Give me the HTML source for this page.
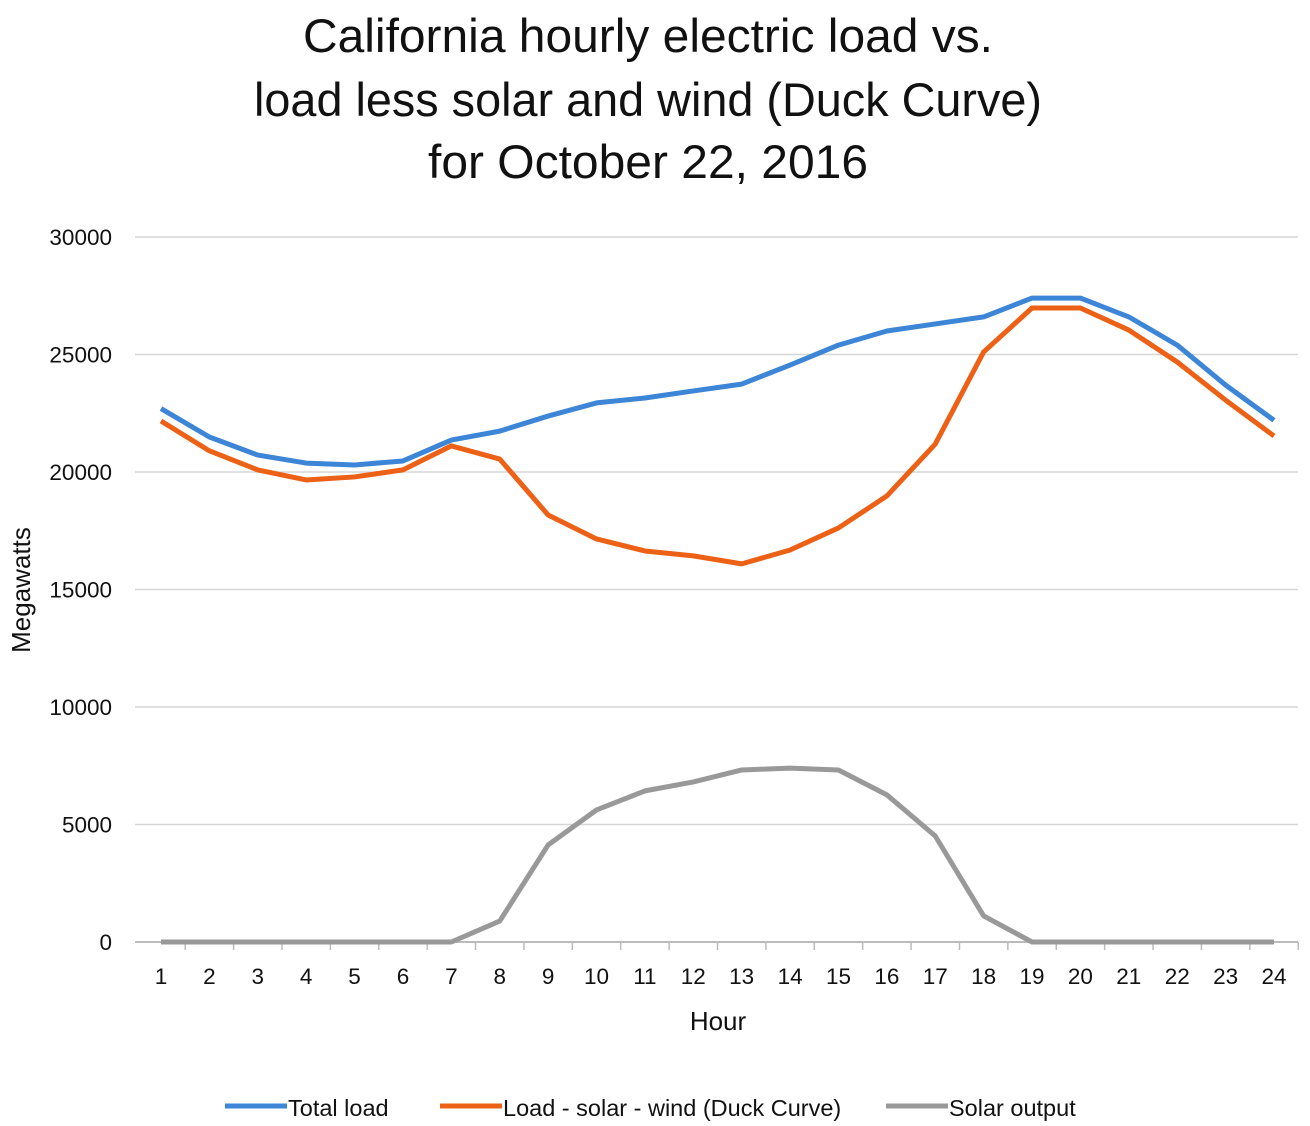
<!DOCTYPE html>
<html><head><meta charset="utf-8"><style>
body{margin:0;background:#fff;}
svg{display:block;font-family:"Liberation Sans",sans-serif;}
</style></head><body>
<svg id="chart" width="1310" height="1126">
<g font-size="47" fill="#111" text-anchor="middle">
<text x="648" y="52" textLength="690" lengthAdjust="spacingAndGlyphs">California hourly electric load vs.</text>
<text x="648" y="116" textLength="788" lengthAdjust="spacingAndGlyphs">load less solar and wind (Duck Curve)</text>
<text x="648" y="178" textLength="440" lengthAdjust="spacingAndGlyphs">for October 22, 2016</text>
</g>
<g id="grid"></g><g id="yt"></g><g id="xt"></g><g id="series"></g>
<text x="30" y="590" font-size="26" fill="#111" text-anchor="middle" transform="rotate(-90 30 590)">Megawatts</text>
<text x="718" y="1030" font-size="26" fill="#111" text-anchor="middle">Hour</text>
<g font-size="23.5" fill="#111">
<g><line x1="225" y1="1106" x2="287" y2="1106" stroke="#3d85d6" stroke-width="5"/><text x="288" y="1116">Total load</text></g>
<g><line x1="440" y1="1106" x2="502" y2="1106" stroke="#ec6116" stroke-width="5"/><text x="503" y="1116">Load - solar - wind (Duck Curve)</text></g>
<g><line x1="886" y1="1106" x2="948" y2="1106" stroke="#999" stroke-width="5"/><text x="949" y="1116">Solar output</text></g>
</g>
</svg>
<script>
const hours=[1,2,3,4,5,6,7,8,9,10,11,12,13,14,15,16,17,18,19,20,21,22,23,24];
const totalLoad=[22700,21490,20720,20380,20300,20470,21360,21740,22380,22940,23150,23450,23740,24550,25400,26000,26300,26600,27400,27400,26600,25400,23700,22200];
const duckCurve=[22170,20900,20090,19660,19790,20090,21110,20550,18170,17150,16640,16430,16090,16680,17620,18980,21190,25110,26980,26980,26040,24680,23060,21530];
const solarOutput=[0,0,0,0,0,0,0,890,4130,5620,6430,6810,7320,7400,7320,6260,4510,1110,0,0,0,0,0,0];
const yTicks=[0,5000,10000,15000,20000,25000,30000];
const NS="http://www.w3.org/2000/svg";
const y=v=>942-v*705/30000;
const x=h=>161+(h-1)*(1113/23);
function mk(t,a,p){const e=document.createElementNS(NS,t);for(const k in a)e.setAttribute(k,a[k]);p.appendChild(e);return e;}
const grid=document.getElementById('grid'),yt=document.getElementById('yt'),xt=document.getElementById('xt'),ser=document.getElementById('series');
yTicks.forEach(v=>{
const l=mk('line',{x1:135,x2:1298,y1:y(v),y2:y(v),stroke:v===0?'#bbb':'#d6d6d6','stroke-width':v===0?2:1.5},grid);


const t=mk('text',{x:112,y:y(v)+8,'font-size':22.5,fill:'#111','text-anchor':'end'},yt);t.textContent=v;


});
hours.forEach(h=>{
const tk=mk('line',{x1:x(h)+24.2,x2:x(h)+24.2,y1:942,y2:950,stroke:'#bbb','stroke-width':1.5},grid);


const t=mk('text',{x:x(h),y:984,'font-size':22.5,fill:'#111','text-anchor':'middle'},xt);t.textContent=h;


});
function line(vals,color,name){
const p=mk('polyline',{points:vals.map((v,i)=>x(hours[i])+','+y(v)).join(' '),fill:'none',stroke:color,'stroke-width':5,'stroke-linejoin':'round'},ser);


}
line(solarOutput,'#999','solar-output-line');
line(duckCurve,'#ec6116','duck-curve-line');
line(totalLoad,'#3d85d6','total-load-line');
</script>
</body></html>
